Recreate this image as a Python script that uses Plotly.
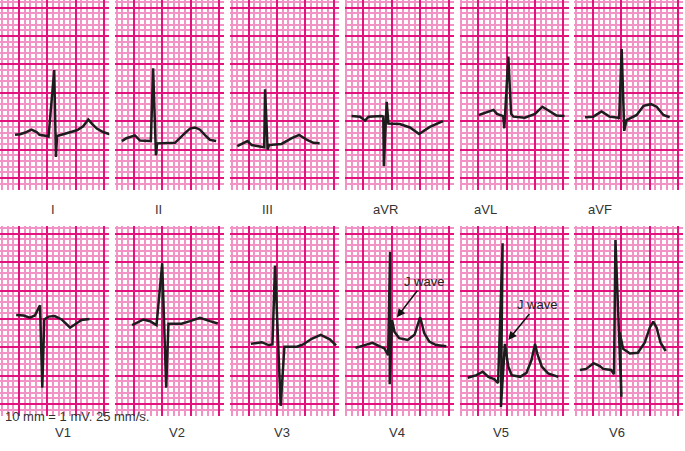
import plotly.graph_objects as go

# ---- Data: ECG traces, time in mm (1 mm = 0.04 s), amplitude in mm (10 mm = 1 mV)
I_t = [-0.7, 0.2, 1.1, 2.2, 3.1, 3.6, 4.9, 5.2, 6.2, 6.5, 6.7, 8.4, 10.2, 11.3, 12.2, 12.9, 13.7, 14.8, 16.0]
I_v = [-2.4, -2.3, -2.0, -1.5, -1.9, -2.4, -2.6, -2.7, 9.0, -6.3, -2.6, -2.1, -1.6, -0.9, 0.3, -0.5, -1.3, -1.9, -2.3]

II_t = [-2.1, -1.3, 0.2, 1.1, 2.85, 3.0, 3.4, 3.9, 4.1, 7.25, 9.0, 9.9, 10.8, 11.65, 12.5, 13.4, 14.5]
II_v = [-3.5, -3.0, -2.5, -3.4, -3.5, -3.5, 9.3, -6.0, -3.9, -3.8, -2.1, -1.3, -1.1, -1.5, -2.4, -3.3, -3.5]

III_t = [-2.0, -0.2, 0.55, 2.6, 2.75, 2.9, 3.35, 3.6, 5.8, 7.6, 8.9, 10.3, 11.4, 12.5]
III_v = [-4.4, -3.5, -4.2, -4.5, -4.6, 5.6, -5.0, -4.2, -4.0, -3.0, -2.4, -3.3, -3.8, -3.9]

aVR_t = [-2.1, -0.6, 0.3, 0.9, 3.2, 3.5, 3.6, 4.1, 4.4, 6.4, 8.2, 9.8, 11.7, 14.0]
aVR_v = [0.9, 0.8, 0.1, 0.8, 0.9, 0.8, -7.9, 3.4, -0.4, -0.5, -1.1, -2.25, -1.0, 0.0]

aVL_t = [0.1, 1.8, 2.7, 3.3, 4.4, 4.6, 5.3, 5.8, 6.2, 8.2, 10.0, 11.3, 12.6, 13.8, 15.2]
aVL_v = [1.1, 1.7, 2.0, 1.3, 0.9, -1.25, 11.4, 1.3, 0.8, 0.6, 1.3, 2.55, 1.7, 1.0, 0.9]

aVF_t = [-1.4, 0.05, 1.5, 2.9, 4.45, 4.6, 5.05, 5.5, 5.9, 7.7, 8.9, 10.2, 11.2, 12.4, 13.5]
aVF_v = [0.7, 0.8, 1.7, 0.8, 0.6, 0.4, 12.7, -1.7, 0.2, 1.1, 2.7, 3.0, 2.55, 1.1, 0.7]

V1_t = [-0.5, 0.8, 1.9, 2.8, 3.7, 4.1, 4.45, 5.2, 6.3, 7.5, 9.0, 10.2, 11.0, 12.4]
V1_v = [5.7, 5.6, 5.2, 5.6, 7.4, -7.1, 4.9, 5.4, 5.5, 4.9, 3.45, 4.3, 4.8, 5.0]

V2_t = [-0.3, 1.7, 2.85, 4.0, 5.0, 5.7, 6.1, 8.4, 9.9, 11.65, 13.4, 14.8]
V2_v = [3.9, 4.9, 4.6, 3.9, 14.8, -7.1, 4.15, 4.15, 4.6, 5.2, 4.6, 4.2]

V3_t = [0.4, 2.3, 3.5, 4.2, 4.65, 5.65, 6.3, 8.5, 9.6, 11.1, 12.7, 14.3, 15.4]
V3_v = [0.6, 0.9, 0.4, 0.5, 14.4, -10.3, 0.1, 0.1, 0.5, 1.5, 2.2, 1.4, 0.35]

V4_t = [-1.4, 0.2, 1.6, 2.8, 3.7, 4.35, 4.7, 4.63, 5.05, 5.46, 6.3, 7.8, 9.0, 10.0, 10.7, 11.6, 12.8, 14.6]
V4_v = [-0.1, 0.4, 0.8, 0.2, -0.2, -1.4, 16.8, -6.5, 4.8, 2.75, 1.6, 1.3, 2.2, 5.3, 2.5, 1.0, 0.4, 0.2]

V5_t = [-1.85, -0.3, 0.8, 1.8, 2.8, 3.5, 4.3, 4.0, 4.7, 5.3, 5.9, 7.4, 8.5, 9.4, 10.0, 10.4, 11.2, 12.3, 14.1]
V5_v = [-5.35, -4.9, -4.3, -5.2, -5.6, -6.3, 18.3, -10.5, 0.6, -3.4, -4.9, -5.2, -4.5, -2.2, 0.6, -1.1, -3.4, -4.6, -5.2]

V6_t = [-2.3, -1.2, 0.1, 1.2, 1.8, 3.2, 3.7, 3.95, 5.0, 4.7, 5.3, 6.5, 7.9, 9.1, 10.0, 10.6, 11.2, 11.9, 12.8]
V6_v = [-4.0, -3.8, -2.8, -3.3, -3.8, -4.0, -4.75, 18.9, -8.7, 2.6, -0.25, -1.1, -0.95, 0.8, 3.45, 4.5, 3.45, 0.8, -0.65]

lead_names = ["I", "II", "III", "aVR", "aVL", "aVF", "V1", "V2", "V3", "V4", "V5", "V6"]
lead_t = [I_t, II_t, III_t, aVR_t, aVL_t, aVF_t, V1_t, V2_t, V3_t, V4_t, V5_t, V6_t]
lead_v = [I_v, II_v, III_v, aVR_v, aVL_v, aVF_v, V1_v, V2_v, V3_v, V4_v, V5_v, V6_v]

# J-wave annotations: (lead index, tip t, tip v, label t, label v)
jwave = [(9, 5.9, 5.3, 10.7, 11.55), (10, 5.3, 1.3, 10.3, 7.45)]
calib_text = "10 mm = 1 mV. 25 mm/s."

# ---- Layout geometry (pixels)
W, H = 685, 451
PXMM = 5.68
col_origin = [19, 133.8, 248.6, 363.4, 478.2, 593.0]   # x pixel of first thick line
row_origin = [121.2, 347.3]                           # y pixel of zero line
OFF_X, OFF_Y = 18.7, 121.2
PW, PH = 109, 190
label_x = [[49, 153, 267, 385, 499, 614], [53, 167, 282, 397, 511, 627]]
label_y = [210, 442]

THICK = "#E3137E"
THIN = "#F293C6"

fig = go.Figure()
layout = dict(width=W, height=H, margin=dict(l=0, r=0, t=0, b=0),
              paper_bgcolor="white", plot_bgcolor="white", showlegend=False,
              font=dict(family="Liberation Sans, Arial, sans-serif", color="#333333"))
annotations = []

for i, name in enumerate(lead_names):
    r, c = divmod(i, 6)
    left = col_origin[c] - OFF_X
    top = row_origin[r] - OFF_Y
    xd = [left / W, (left + PW) / W]
    yd = [1 - (top + PH) / H, 1 - top / H]
    k = "" if i == 0 else str(i + 1)
    axcommon = dict(showticklabels=False, ticks="", showline=False, zeroline=False,
                    showgrid=True, gridcolor=THICK, gridwidth=2, dtick=5, tick0=0,
                    minor=dict(dtick=1, tick0=0, showgrid=True, gridcolor=THIN, gridwidth=2),
                    fixedrange=True)
    layout["xaxis" + k] = dict(domain=xd, range=[-OFF_X / PXMM, (PW - OFF_X) / PXMM],
                               anchor="y" + k, **axcommon)
    layout["yaxis" + k] = dict(domain=yd, range=[-(PH - OFF_Y) / PXMM, OFF_Y / PXMM],
                               anchor="x" + k, **axcommon)
    fig.add_trace(go.Scatter(x=lead_t[i], y=lead_v[i], mode="lines",
                             line=dict(color="#1c1c1c", width=2.5),
                             xaxis="x" + k, yaxis="y" + k, hoverinfo="skip"))
    annotations.append(dict(text=name, x=label_x[r][c] / W, y=1 - label_y[r] / H,
                            xref="paper", yref="paper", showarrow=False,
                            font=dict(size=13, color="#333333")))

for (li, tx, tv, lx, lv) in jwave:
    k = str(li + 1)
    annotations.append(dict(text="J wave", x=tx, y=tv, ax=lx, ay=lv,
                            xref="x" + k, yref="y" + k, axref="x" + k, ayref="y" + k,
                            showarrow=True, arrowhead=2, arrowsize=1.1, arrowwidth=1.5,
                            arrowcolor="#111111", standoff=0,
                            font=dict(size=13, color="#222222")))

annotations.append(dict(text=calib_text, x=3 / W, y=1 - 426 / H, xref="paper", yref="paper",
                        xanchor="left", showarrow=False, font=dict(size=13, color="#333333")))

layout["annotations"] = annotations
fig.update_layout(**layout)
fig.write_html("out.html", config={"displayModeBar": False},
               post_script="document.body.style.margin='0';document.body.style.padding='0';")
